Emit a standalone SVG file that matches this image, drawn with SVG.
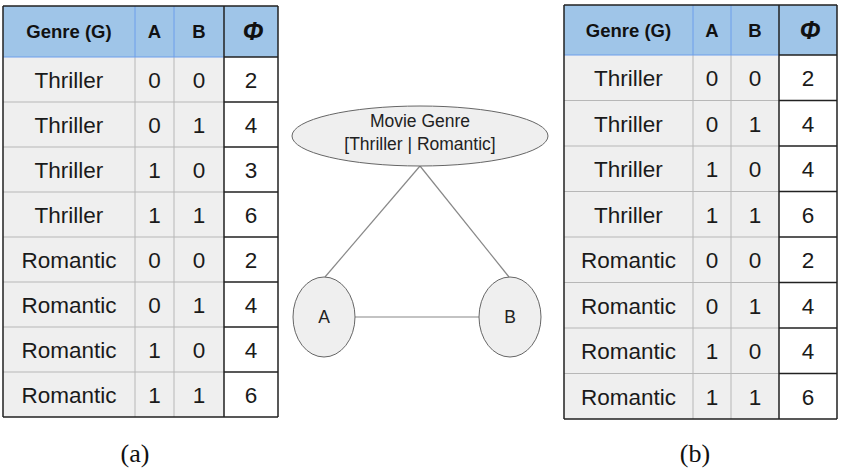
<svg xmlns="http://www.w3.org/2000/svg" width="842" height="468" viewBox="0 0 842 468">
<style>
.hdr{fill:#9fc5e8}
.body{fill:#efefef}
.phi{fill:#ffffff}
.grid{stroke:#b7b7b7;stroke-width:1;fill:none}
.hgrid{stroke:#6d9eeb;stroke-width:1;fill:none}
.dark{stroke:#222;stroke-width:1.5;fill:none}
.ht{font-family:"Liberation Sans",Arial,sans-serif;font-weight:bold;font-size:18.5px;fill:#111;text-anchor:middle}
.pt{font-family:"Liberation Sans",Arial,sans-serif;font-weight:bold;font-style:italic;font-size:25px;fill:#111;text-anchor:middle}
.bt{font-family:"Liberation Sans",Arial,sans-serif;font-size:22.5px;fill:#1a1a1a;text-anchor:middle}
.cap{font-family:"Liberation Serif","Times New Roman",serif;font-size:26px;fill:#111;text-anchor:middle}
.node{fill:#efefef;stroke:#666;stroke-width:1}
.nt{font-family:"Liberation Sans",Arial,sans-serif;font-size:17.5px;fill:#222;text-anchor:middle}
.edge{stroke:#888;stroke-width:1.2;fill:none}
</style>

<g id="table-a">
<rect class="hdr" x="3" y="6" width="275" height="51"/>
<rect class="body" x="3" y="57" width="221" height="360"/>
<rect class="phi" x="224" y="57" width="54" height="360"/>
<path class="grid" d="M3 102H224M3 147H224M3 192H224M3 237H224M3 282H224M3 327H224M3 372H224M135 57V417M174 57V417"/>
<path class="hgrid" d="M3 57H224M135 6V57M174 6V57"/>
<path class="dark" d="M224 102H278M224 147H278M224 192H278M224 237H278M224 282H278M224 327H278M224 372H278"/>
<path class="dark" d="M224 6V417M278 6V417M3 6H278M3 6V417M3 417H278M224 57H278"/>
<text class="ht" x="69" y="38">Genre (G)</text>
<text class="ht" x="154.5" y="38">A</text>
<text class="ht" x="199" y="38">B</text>
<text class="pt" x="253" y="40">Φ</text>
<g class="bt">
<text x="69" y="88">Thriller</text><text x="154.5" y="88">0</text><text x="199" y="88">0</text><text x="251" y="88">2</text>
<text x="69" y="133">Thriller</text><text x="154.5" y="133">0</text><text x="199" y="133">1</text><text x="251" y="133">4</text>
<text x="69" y="178">Thriller</text><text x="154.5" y="178">1</text><text x="199" y="178">0</text><text x="251" y="178">3</text>
<text x="69" y="223">Thriller</text><text x="154.5" y="223">1</text><text x="199" y="223">1</text><text x="251" y="223">6</text>
<text x="69" y="268">Romantic</text><text x="154.5" y="268">0</text><text x="199" y="268">0</text><text x="251" y="268">2</text>
<text x="69" y="313">Romantic</text><text x="154.5" y="313">0</text><text x="199" y="313">1</text><text x="251" y="313">4</text>
<text x="69" y="358">Romantic</text><text x="154.5" y="358">1</text><text x="199" y="358">0</text><text x="251" y="358">4</text>
<text x="69" y="403">Romantic</text><text x="154.5" y="403">1</text><text x="199" y="403">1</text><text x="251" y="403">6</text>
</g>
<text class="cap" x="135" y="462">(a)</text>
</g>

<g id="table-b">
<rect class="hdr" x="564" y="5" width="273" height="50"/>
<rect class="body" x="564" y="55" width="215" height="364"/>
<rect class="phi" x="779" y="55" width="58" height="364"/>
<path class="grid" d="M564 100.5H779M564 146H779M564 191.5H779M564 237H779M564 282.5H779M564 328H779M564 373.5H779M693 55V419M731 55V419"/>
<path class="hgrid" d="M564 55H779M693 5V55M731 5V55"/>
<path class="dark" d="M779 100.5H837M779 146H837M779 191.5H837M779 237H837M779 282.5H837M779 328H837M779 373.5H837"/>
<path class="dark" d="M779 5V419M837 5V419M564 5H837M564 5V419M564 419H837M779 55H837"/>
<text class="ht" x="628.5" y="37">Genre (G)</text>
<text class="ht" x="712" y="37">A</text>
<text class="ht" x="755" y="37">B</text>
<text class="pt" x="810" y="39">Φ</text>
<g class="bt">
<text x="628.5" y="86">Thriller</text><text x="712" y="86">0</text><text x="755" y="86">0</text><text x="808" y="86">2</text>
<text x="628.5" y="131.5">Thriller</text><text x="712" y="131.5">0</text><text x="755" y="131.5">1</text><text x="808" y="131.5">4</text>
<text x="628.5" y="177">Thriller</text><text x="712" y="177">1</text><text x="755" y="177">0</text><text x="808" y="177">4</text>
<text x="628.5" y="222.5">Thriller</text><text x="712" y="222.5">1</text><text x="755" y="222.5">1</text><text x="808" y="222.5">6</text>
<text x="628.5" y="268">Romantic</text><text x="712" y="268">0</text><text x="755" y="268">0</text><text x="808" y="268">2</text>
<text x="628.5" y="313.5">Romantic</text><text x="712" y="313.5">0</text><text x="755" y="313.5">1</text><text x="808" y="313.5">4</text>
<text x="628.5" y="359">Romantic</text><text x="712" y="359">1</text><text x="755" y="359">0</text><text x="808" y="359">4</text>
<text x="628.5" y="404.5">Romantic</text><text x="712" y="404.5">1</text><text x="755" y="404.5">1</text><text x="808" y="404.5">6</text>
</g>
<text class="cap" x="695" y="462">(b)</text>
</g>

<g id="connectors">
<line class="edge" x1="420" y1="166" x2="325" y2="277"/>
<line class="edge" x1="420" y1="166" x2="509" y2="277"/>
<line class="edge" x1="355" y1="317" x2="479" y2="317"/>
</g>

<g id="node-genre">
<ellipse class="node" cx="420" cy="136" rx="128" ry="30"/>
<text class="nt" x="420" y="127">Movie Genre</text>
<text class="nt" x="420" y="150">[Thriller | Romantic]</text>
</g>
<g id="node-a">
<ellipse class="node" cx="324" cy="317" rx="31" ry="40"/>
<text class="nt" x="324" y="323">A</text>
</g>
<g id="node-b">
<ellipse class="node" cx="510" cy="317" rx="31" ry="40"/>
<text class="nt" x="510" y="323">B</text>
</g>
</svg>
